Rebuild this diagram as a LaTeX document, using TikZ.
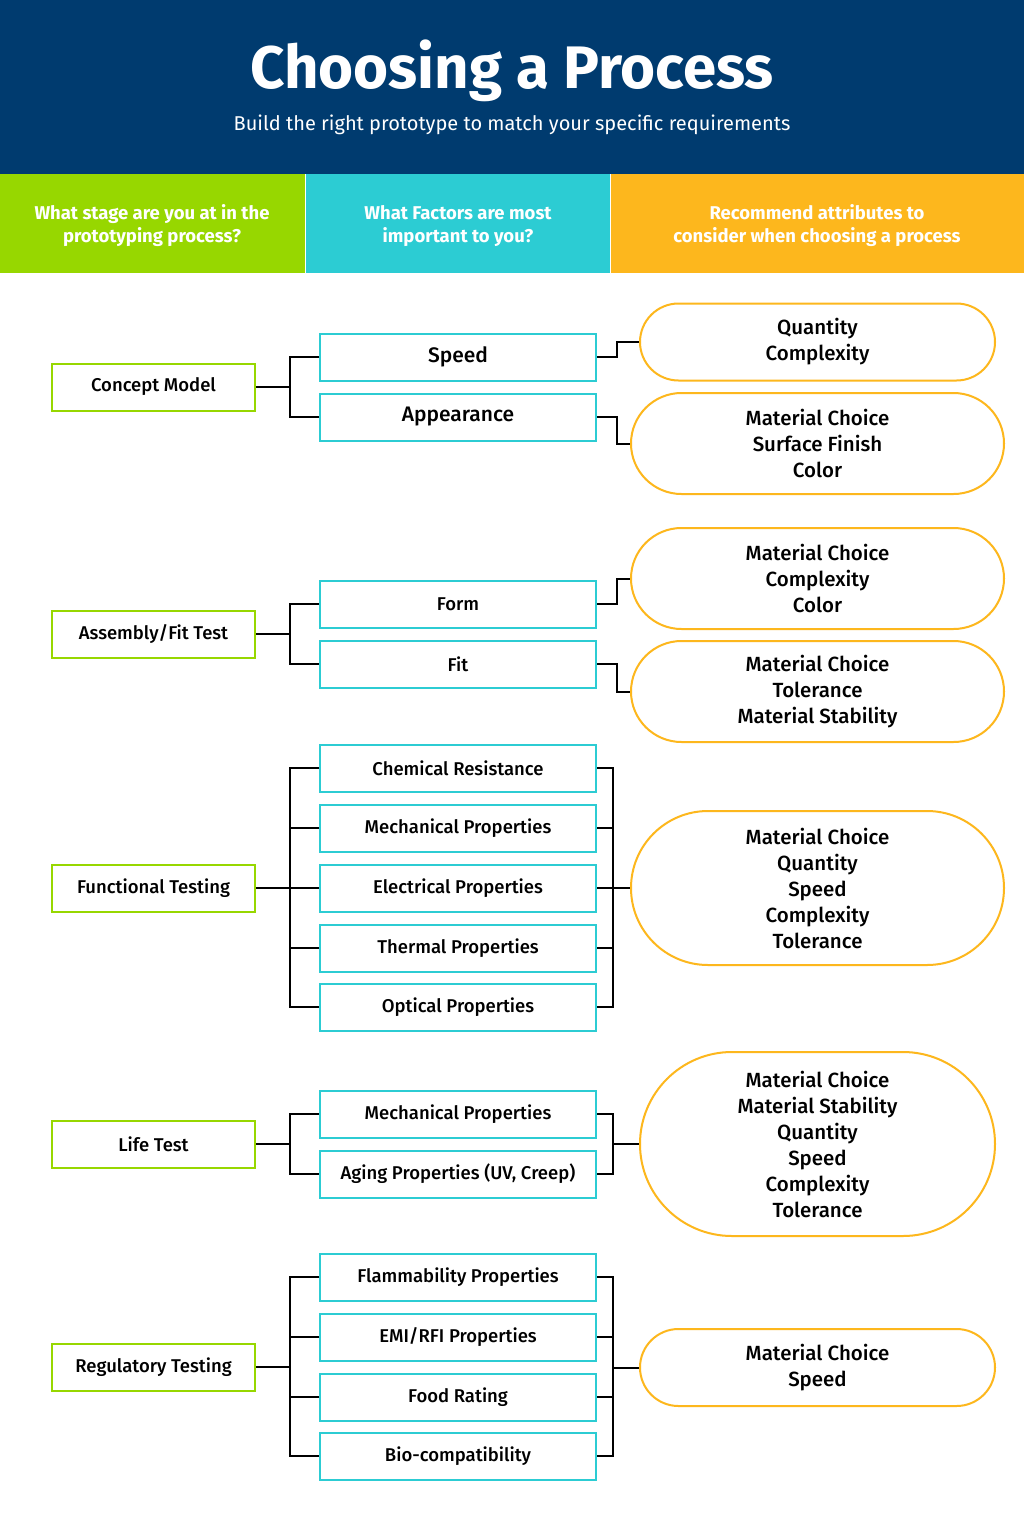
\documentclass[tikz,border=0pt]{standalone}
\usepackage{fontspec}
\setmainfont{Fira Sans}
\newfontfamily\medfont{Fira Sans Medium}
\definecolor{cnavy}{HTML}{003B6F}
\definecolor{cgreen}{HTML}{97D700}
\definecolor{ccyan}{HTML}{2CCCD3}
\definecolor{corange}{HTML}{FDB71D}
\tikzset{
  stagebox/.style={draw=cgreen, line width=2pt, minimum width=203pt, minimum height=47pt, inner sep=0pt, font=\medfont\fontsize{18.5}{21}\selectfont},
  factorbox/.style={draw=ccyan, line width=2pt, minimum width=276pt, minimum height=47pt, inner sep=0pt, font=\medfont\fontsize{18.5}{21}\selectfont},
  bigfactor/.style={factorbox, font=\medfont\fontsize{21}{24}\selectfont},
  pill/.style n args={3}{draw=corange, line width=2pt, minimum width=#1pt, minimum height=#2pt, rounded corners=#3pt, inner sep=0pt, align=center, font=\medfont\fontsize{20.5}{26}\selectfont},
  headtext/.style={text=white, align=center, font=\fontsize{18.5}{23}\selectfont\bfseries},
  link/.style={draw=black, line width=2pt}
}
\begin{document}
\begin{tikzpicture}[x=1pt,y=-1pt]
\useasboundingbox (0,0) rectangle (1024,1523);
\fill[white] (0,0) rectangle (1024,1523);
% header
\fill[cnavy] (0,0) rectangle (1024,174);
\node[text=white, font=\fontsize{60}{62}\selectfont\bfseries] (title) at (512,71) {Choosing a Process};
\node[text=white, font=\fontsize{20}{22}\selectfont] (subtitle) at (512,125) {Build the right prototype to match your specific requirements};
\fill[cgreen] (0,174) rectangle (305,273);
\fill[ccyan] (306,174) rectangle (610,273);
\fill[corange] (611,174) rectangle (1024,273);
\node[headtext] (h1) at (152,226) {What stage are you at in the\\prototyping process?};
\node[headtext] (h2) at (458,226) {What Factors are most\\important to you?};
\node[headtext] (h3) at (817,226) {Recommend attributes to\\consider when choosing a process};

% stage nodes
\node[stagebox] (cm) at (153.5,387) {Concept Model};
\node[stagebox] (af) at (153.5,634) {Assembly/Fit Test};
\node[stagebox] (ft) at (153.5,888) {Functional Testing};
\node[stagebox] (lt) at (153.5,1144) {Life Test};
\node[stagebox] (rt) at (153.5,1367) {Regulatory Testing};

% factor nodes
\node[bigfactor] (speed) at (458,357) {Speed};
\node[bigfactor] (app) at (458,417) {Appearance};
\node[factorbox] (form) at (458,604) {Form};
\node[factorbox] (fit) at (458,664) {Fit};
\node[factorbox] (chem) at (458,768) {Chemical Resistance};
\node[factorbox] (mech) at (458,828) {Mechanical Properties};
\node[factorbox] (elec) at (458,888) {Electrical Properties};
\node[factorbox] (therm) at (458,948) {Thermal Properties};
\node[factorbox] (opt) at (458,1007) {Optical Properties};
\node[factorbox] (lmech) at (458,1114) {Mechanical Properties};
\node[factorbox] (aging) at (458,1174) {Aging Properties (UV, Creep)};
\node[factorbox] (flam) at (458,1277) {Flammability Properties};
\node[factorbox] (emi) at (458,1337) {EMI/RFI Properties};
\node[factorbox] (food) at (458,1397) {Food Rating};
\node[factorbox] (bio) at (458,1456) {Bio-compatibility};

% attribute pills
\node[pill={355}{77}{38.5}] (p1) at (817.5,342) {Quantity\\Complexity};
\node[pill={373}{101}{50.5}] (p2) at (817.5,443.5) {Material Choice\\Surface Finish\\Color};
\node[pill={373}{101}{50.5}] (p3) at (817.5,578.5) {Material Choice\\Complexity\\Color};
\node[pill={373}{101}{50.5}] (p4) at (817.5,691.5) {Material Choice\\Tolerance\\Material Stability};
\node[pill={373}{154}{77}] (p5) at (817.5,888) {Material Choice\\Quantity\\Speed\\Complexity\\Tolerance};
\node[pill={355}{184}{92}] (p6) at (817.5,1144) {Material Choice\\Material Stability\\Quantity\\Speed\\Complexity\\Tolerance};
\node[pill={355}{77}{38.5}] (p7) at (817.5,1367.5) {Material Choice\\Speed};

% connectors: concept model
\draw[link] (cm.east) -- ++(34,0);
\draw[link] (speed.west) -- ++(-29,0) |- (app.west);
\draw[link] (speed.east) -- ++(20,0) |- (p1.west);
\draw[link] (app.east) -- ++(20,0) |- (p2.west);
% assembly/fit
\draw[link] (af.east) -- ++(34,0);
\draw[link] (form.west) -- ++(-29,0) |- (fit.west);
\draw[link] (form.east) -- ++(20,0) |- (p3.west);
\draw[link] (fit.east) -- ++(20,0) |- (p4.west);
% functional
\draw[link] (ft.east) -- (elec.west);
\draw[link] (chem.west) -- ++(-29,0) |- (opt.west);
\draw[link] (mech.west) -- ++(-29,0);
\draw[link] (therm.west) -- ++(-29,0);
\draw[link] (chem.east) -- ++(16,0) |- (opt.east);
\draw[link] (mech.east) -- ++(16,0);
\draw[link] (therm.east) -- ++(16,0);
\draw[link] (elec.east) -- (p5.west);
% life
\draw[link] (lt.east) -- ++(34,0);
\draw[link] (lmech.west) -- ++(-29,0) |- (aging.west);
\draw[link] (lmech.east) -- ++(16,0) |- (aging.east);
\draw[link] (p6.west) -- ++(-26,0);
% regulatory
\draw[link] (rt.east) -- ++(34,0);
\draw[link] (flam.west) -- ++(-29,0) |- (bio.west);
\draw[link] (emi.west) -- ++(-29,0);
\draw[link] (food.west) -- ++(-29,0);
\draw[link] (flam.east) -- ++(16,0) |- (bio.east);
\draw[link] (emi.east) -- ++(16,0);
\draw[link] (food.east) -- ++(16,0);
\draw[link] (p7.west) -- ++(-26,0);
\end{tikzpicture}
\end{document}
